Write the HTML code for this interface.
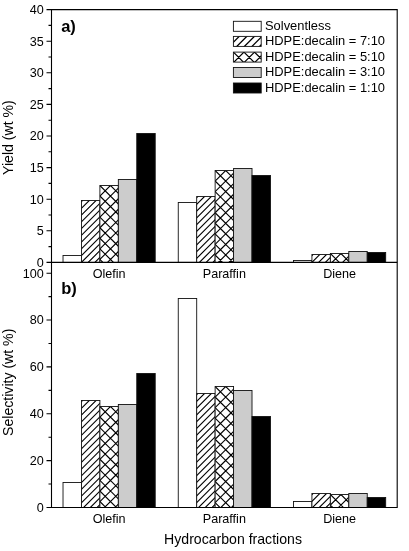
<!DOCTYPE html>
<html><head><meta charset="utf-8"><title>Hydrocarbon fractions</title>
<style>
html,body{margin:0;padding:0;background:#fff}
svg{display:block}
text{font-family:"Liberation Sans",Arial,Helvetica,sans-serif;fill:#000}
</style></head><body>
<svg width="409" height="551" viewBox="0 0 409 551">
<rect width="409" height="551" fill="#fff"/>

<g>
<rect x="63.02" y="255.50" width="18.44" height="6.90" fill="#fff" stroke="#111" stroke-width="0.9"/>
<svg x="81.46" y="200.50" width="18.44" height="61.90" overflow="hidden"><rect x="-1" y="-1" width="20.44" height="63.90" fill="#fff"/><path d="M-1.00,2.10 L2.10,-1.00 M-1.00,8.85 L8.85,-1.00 M-1.00,15.60 L15.60,-1.00 M-1.00,22.35 L22.35,-1.00 M-1.00,29.10 L29.10,-1.00 M-1.00,35.85 L35.85,-1.00 M-1.00,42.60 L42.60,-1.00 M-1.00,49.35 L49.35,-1.00 M-1.00,56.10 L56.10,-1.00 M-1.00,62.85 L62.85,-1.00 M-1.00,69.60 L69.60,-1.00 M-1.00,76.35 L76.35,-1.00 M-1.00,83.10 L83.10,-1.00" stroke="#000" stroke-width="1.15" fill="none"/></svg>
<rect x="81.46" y="200.50" width="18.44" height="61.90" fill="none" stroke="#111" stroke-width="0.9"/>
<svg x="99.90" y="185.50" width="18.44" height="76.90" overflow="hidden"><rect x="-1" y="-1" width="20.44" height="78.90" fill="#fff"/><path d="M-1.00,1.00 L1.00,-1.00 M-1.00,11.56 L11.56,-1.00 M-1.00,22.12 L22.12,-1.00 M-1.00,32.68 L32.68,-1.00 M-1.00,43.24 L43.24,-1.00 M-1.00,53.80 L53.80,-1.00 M-1.00,64.36 L64.36,-1.00 M-1.00,74.92 L74.92,-1.00 M-1.00,85.48 L85.48,-1.00 M-1.00,96.04 L96.04,-1.00 M-1.00,106.60 L106.60,-1.00 M-85.48,-1.00 L-6.58,77.90 M-74.92,-1.00 L3.98,77.90 M-64.36,-1.00 L14.54,77.90 M-53.80,-1.00 L25.10,77.90 M-43.24,-1.00 L35.66,77.90 M-32.68,-1.00 L46.22,77.90 M-22.12,-1.00 L56.78,77.90 M-11.56,-1.00 L67.34,77.90 M-1.00,-1.00 L77.90,77.90 M9.56,-1.00 L88.46,77.90" stroke="#000" stroke-width="1.15" fill="none"/></svg>
<rect x="99.90" y="185.50" width="18.44" height="76.90" fill="none" stroke="#111" stroke-width="0.9"/>
<rect x="118.34" y="179.50" width="18.44" height="82.90" fill="#cccccc" stroke="#111" stroke-width="0.9"/>
<rect x="136.77" y="133.50" width="18.44" height="128.90" fill="#000" stroke="#111" stroke-width="0.9"/>
<rect x="178.26" y="202.50" width="18.44" height="59.90" fill="#fff" stroke="#111" stroke-width="0.9"/>
<svg x="196.69" y="196.50" width="18.44" height="65.90" overflow="hidden"><rect x="-1" y="-1" width="20.44" height="67.90" fill="#fff"/><path d="M-1.00,2.10 L2.10,-1.00 M-1.00,8.85 L8.85,-1.00 M-1.00,15.60 L15.60,-1.00 M-1.00,22.35 L22.35,-1.00 M-1.00,29.10 L29.10,-1.00 M-1.00,35.85 L35.85,-1.00 M-1.00,42.60 L42.60,-1.00 M-1.00,49.35 L49.35,-1.00 M-1.00,56.10 L56.10,-1.00 M-1.00,62.85 L62.85,-1.00 M-1.00,69.60 L69.60,-1.00 M-1.00,76.35 L76.35,-1.00 M-1.00,83.10 L83.10,-1.00" stroke="#000" stroke-width="1.15" fill="none"/></svg>
<rect x="196.69" y="196.50" width="18.44" height="65.90" fill="none" stroke="#111" stroke-width="0.9"/>
<svg x="215.13" y="170.50" width="18.44" height="91.90" overflow="hidden"><rect x="-1" y="-1" width="20.44" height="93.90" fill="#fff"/><path d="M-1.00,1.00 L1.00,-1.00 M-1.00,11.56 L11.56,-1.00 M-1.00,22.12 L22.12,-1.00 M-1.00,32.68 L32.68,-1.00 M-1.00,43.24 L43.24,-1.00 M-1.00,53.80 L53.80,-1.00 M-1.00,64.36 L64.36,-1.00 M-1.00,74.92 L74.92,-1.00 M-1.00,85.48 L85.48,-1.00 M-1.00,96.04 L96.04,-1.00 M-1.00,106.60 L106.60,-1.00 M-1.00,117.16 L117.16,-1.00 M-96.04,-1.00 L-2.14,92.90 M-85.48,-1.00 L8.42,92.90 M-74.92,-1.00 L18.98,92.90 M-64.36,-1.00 L29.54,92.90 M-53.80,-1.00 L40.10,92.90 M-43.24,-1.00 L50.66,92.90 M-32.68,-1.00 L61.22,92.90 M-22.12,-1.00 L71.78,92.90 M-11.56,-1.00 L82.34,92.90 M-1.00,-1.00 L92.90,92.90 M9.56,-1.00 L103.46,92.90" stroke="#000" stroke-width="1.15" fill="none"/></svg>
<rect x="215.13" y="170.50" width="18.44" height="91.90" fill="none" stroke="#111" stroke-width="0.9"/>
<rect x="233.57" y="168.50" width="18.44" height="93.90" fill="#cccccc" stroke="#111" stroke-width="0.9"/>
<rect x="252.01" y="175.50" width="18.44" height="86.90" fill="#000" stroke="#111" stroke-width="0.9"/>
<rect x="293.49" y="260.50" width="18.44" height="1.90" fill="#fff" stroke="#111" stroke-width="0.9"/>
<svg x="311.93" y="254.50" width="18.44" height="7.90" overflow="hidden"><rect x="-1" y="-1" width="20.44" height="9.90" fill="#fff"/><path d="M-1.00,2.10 L2.10,-1.00 M-1.00,8.85 L8.85,-1.00 M-1.00,15.60 L15.60,-1.00 M-1.00,22.35 L22.35,-1.00 M-1.00,29.10 L29.10,-1.00" stroke="#000" stroke-width="1.15" fill="none"/></svg>
<rect x="311.93" y="254.50" width="18.44" height="7.90" fill="none" stroke="#111" stroke-width="0.9"/>
<svg x="330.36" y="253.50" width="18.44" height="8.90" overflow="hidden"><rect x="-1" y="-1" width="20.44" height="10.90" fill="#fff"/><path d="M-1.00,1.00 L1.00,-1.00 M-1.00,11.56 L11.56,-1.00 M-1.00,22.12 L22.12,-1.00 M-1.00,32.68 L32.68,-1.00 M-22.12,-1.00 L-11.22,9.90 M-11.56,-1.00 L-0.66,9.90 M-1.00,-1.00 L9.90,9.90 M9.56,-1.00 L20.46,9.90" stroke="#000" stroke-width="1.15" fill="none"/></svg>
<rect x="330.36" y="253.50" width="18.44" height="8.90" fill="none" stroke="#111" stroke-width="0.9"/>
<rect x="348.80" y="251.50" width="18.44" height="10.90" fill="#cccccc" stroke="#111" stroke-width="0.9"/>
<rect x="367.24" y="252.50" width="18.44" height="9.90" fill="#000" stroke="#111" stroke-width="0.9"/>
<rect x="63.02" y="482.50" width="18.44" height="25.00" fill="#fff" stroke="#111" stroke-width="0.9"/>
<svg x="81.46" y="400.50" width="18.44" height="107.00" overflow="hidden"><rect x="-1" y="-1" width="20.44" height="109.00" fill="#fff"/><path d="M-1.00,2.10 L2.10,-1.00 M-1.00,8.85 L8.85,-1.00 M-1.00,15.60 L15.60,-1.00 M-1.00,22.35 L22.35,-1.00 M-1.00,29.10 L29.10,-1.00 M-1.00,35.85 L35.85,-1.00 M-1.00,42.60 L42.60,-1.00 M-1.00,49.35 L49.35,-1.00 M-1.00,56.10 L56.10,-1.00 M-1.00,62.85 L62.85,-1.00 M-1.00,69.60 L69.60,-1.00 M-1.00,76.35 L76.35,-1.00 M-1.00,83.10 L83.10,-1.00 M-1.00,89.85 L89.85,-1.00 M-1.00,96.60 L96.60,-1.00 M-1.00,103.35 L103.35,-1.00 M-1.00,110.10 L110.10,-1.00 M-1.00,116.85 L116.85,-1.00 M-1.00,123.60 L123.60,-1.00" stroke="#000" stroke-width="1.15" fill="none"/></svg>
<rect x="81.46" y="400.50" width="18.44" height="107.00" fill="none" stroke="#111" stroke-width="0.9"/>
<svg x="99.90" y="406.50" width="18.44" height="101.00" overflow="hidden"><rect x="-1" y="-1" width="20.44" height="103.00" fill="#fff"/><path d="M-1.00,1.00 L1.00,-1.00 M-1.00,11.56 L11.56,-1.00 M-1.00,22.12 L22.12,-1.00 M-1.00,32.68 L32.68,-1.00 M-1.00,43.24 L43.24,-1.00 M-1.00,53.80 L53.80,-1.00 M-1.00,64.36 L64.36,-1.00 M-1.00,74.92 L74.92,-1.00 M-1.00,85.48 L85.48,-1.00 M-1.00,96.04 L96.04,-1.00 M-1.00,106.60 L106.60,-1.00 M-1.00,117.16 L117.16,-1.00 M-1.00,127.72 L127.72,-1.00 M-106.60,-1.00 L-3.60,102.00 M-96.04,-1.00 L6.96,102.00 M-85.48,-1.00 L17.52,102.00 M-74.92,-1.00 L28.08,102.00 M-64.36,-1.00 L38.64,102.00 M-53.80,-1.00 L49.20,102.00 M-43.24,-1.00 L59.76,102.00 M-32.68,-1.00 L70.32,102.00 M-22.12,-1.00 L80.88,102.00 M-11.56,-1.00 L91.44,102.00 M-1.00,-1.00 L102.00,102.00 M9.56,-1.00 L112.56,102.00" stroke="#000" stroke-width="1.15" fill="none"/></svg>
<rect x="99.90" y="406.50" width="18.44" height="101.00" fill="none" stroke="#111" stroke-width="0.9"/>
<rect x="118.34" y="404.50" width="18.44" height="103.00" fill="#cccccc" stroke="#111" stroke-width="0.9"/>
<rect x="136.77" y="373.50" width="18.44" height="134.00" fill="#000" stroke="#111" stroke-width="0.9"/>
<rect x="178.26" y="298.50" width="18.44" height="209.00" fill="#fff" stroke="#111" stroke-width="0.9"/>
<svg x="196.69" y="393.50" width="18.44" height="114.00" overflow="hidden"><rect x="-1" y="-1" width="20.44" height="116.00" fill="#fff"/><path d="M-1.00,2.10 L2.10,-1.00 M-1.00,8.85 L8.85,-1.00 M-1.00,15.60 L15.60,-1.00 M-1.00,22.35 L22.35,-1.00 M-1.00,29.10 L29.10,-1.00 M-1.00,35.85 L35.85,-1.00 M-1.00,42.60 L42.60,-1.00 M-1.00,49.35 L49.35,-1.00 M-1.00,56.10 L56.10,-1.00 M-1.00,62.85 L62.85,-1.00 M-1.00,69.60 L69.60,-1.00 M-1.00,76.35 L76.35,-1.00 M-1.00,83.10 L83.10,-1.00 M-1.00,89.85 L89.85,-1.00 M-1.00,96.60 L96.60,-1.00 M-1.00,103.35 L103.35,-1.00 M-1.00,110.10 L110.10,-1.00 M-1.00,116.85 L116.85,-1.00 M-1.00,123.60 L123.60,-1.00 M-1.00,130.35 L130.35,-1.00" stroke="#000" stroke-width="1.15" fill="none"/></svg>
<rect x="196.69" y="393.50" width="18.44" height="114.00" fill="none" stroke="#111" stroke-width="0.9"/>
<svg x="215.13" y="386.50" width="18.44" height="121.00" overflow="hidden"><rect x="-1" y="-1" width="20.44" height="123.00" fill="#fff"/><path d="M-1.00,1.00 L1.00,-1.00 M-1.00,11.56 L11.56,-1.00 M-1.00,22.12 L22.12,-1.00 M-1.00,32.68 L32.68,-1.00 M-1.00,43.24 L43.24,-1.00 M-1.00,53.80 L53.80,-1.00 M-1.00,64.36 L64.36,-1.00 M-1.00,74.92 L74.92,-1.00 M-1.00,85.48 L85.48,-1.00 M-1.00,96.04 L96.04,-1.00 M-1.00,106.60 L106.60,-1.00 M-1.00,117.16 L117.16,-1.00 M-1.00,127.72 L127.72,-1.00 M-1.00,138.28 L138.28,-1.00 M-1.00,148.84 L148.84,-1.00 M-127.72,-1.00 L-4.72,122.00 M-117.16,-1.00 L5.84,122.00 M-106.60,-1.00 L16.40,122.00 M-96.04,-1.00 L26.96,122.00 M-85.48,-1.00 L37.52,122.00 M-74.92,-1.00 L48.08,122.00 M-64.36,-1.00 L58.64,122.00 M-53.80,-1.00 L69.20,122.00 M-43.24,-1.00 L79.76,122.00 M-32.68,-1.00 L90.32,122.00 M-22.12,-1.00 L100.88,122.00 M-11.56,-1.00 L111.44,122.00 M-1.00,-1.00 L122.00,122.00 M9.56,-1.00 L132.56,122.00" stroke="#000" stroke-width="1.15" fill="none"/></svg>
<rect x="215.13" y="386.50" width="18.44" height="121.00" fill="none" stroke="#111" stroke-width="0.9"/>
<rect x="233.57" y="390.50" width="18.44" height="117.00" fill="#cccccc" stroke="#111" stroke-width="0.9"/>
<rect x="252.01" y="416.50" width="18.44" height="91.00" fill="#000" stroke="#111" stroke-width="0.9"/>
<rect x="293.49" y="501.50" width="18.44" height="6.00" fill="#fff" stroke="#111" stroke-width="0.9"/>
<svg x="311.93" y="493.50" width="18.44" height="14.00" overflow="hidden"><rect x="-1" y="-1" width="20.44" height="16.00" fill="#fff"/><path d="M-1.00,2.10 L2.10,-1.00 M-1.00,8.85 L8.85,-1.00 M-1.00,15.60 L15.60,-1.00 M-1.00,22.35 L22.35,-1.00 M-1.00,29.10 L29.10,-1.00" stroke="#000" stroke-width="1.15" fill="none"/></svg>
<rect x="311.93" y="493.50" width="18.44" height="14.00" fill="none" stroke="#111" stroke-width="0.9"/>
<svg x="330.36" y="494.50" width="18.44" height="13.00" overflow="hidden"><rect x="-1" y="-1" width="20.44" height="15.00" fill="#fff"/><path d="M-1.00,1.00 L1.00,-1.00 M-1.00,11.56 L11.56,-1.00 M-1.00,22.12 L22.12,-1.00 M-1.00,32.68 L32.68,-1.00 M-1.00,43.24 L43.24,-1.00 M-22.12,-1.00 L-7.12,14.00 M-11.56,-1.00 L3.44,14.00 M-1.00,-1.00 L14.00,14.00 M9.56,-1.00 L24.56,14.00" stroke="#000" stroke-width="1.15" fill="none"/></svg>
<rect x="330.36" y="494.50" width="18.44" height="13.00" fill="none" stroke="#111" stroke-width="0.9"/>
<rect x="348.80" y="493.50" width="18.44" height="14.00" fill="#cccccc" stroke="#111" stroke-width="0.9"/>
<rect x="367.24" y="497.50" width="18.44" height="10.00" fill="#000" stroke="#111" stroke-width="0.9"/>
</g>
<g stroke="#000" stroke-width="1.1" fill="none">
<path d="M46.50,9.60 H397.20 V507.50 H46.50"/>
<path d="M51.50,9.60 V507.50"/>
<path d="M46.50,262.40 H397.20"/>
<path d="M48.50,246.60 H51.50 M46.50,230.80 H51.50 M48.50,215.00 H51.50 M46.50,199.20 H51.50 M48.50,183.40 H51.50 M46.50,167.60 H51.50 M48.50,151.80 H51.50 M46.50,136.00 H51.50 M48.50,120.20 H51.50 M46.50,104.40 H51.50 M48.50,88.60 H51.50 M46.50,72.80 H51.50 M48.50,57.00 H51.50 M46.50,41.20 H51.50 M48.50,25.40 H51.50 M48.50,484.07 H51.50 M46.50,460.64 H51.50 M48.50,437.21 H51.50 M46.50,413.78 H51.50 M48.50,390.35 H51.50 M46.50,366.92 H51.50 M48.50,343.49 H51.50 M46.50,320.06 H51.50 M48.50,296.63 H51.50 M46.50,273.20 H51.50 "/>
</g>
<g font-size="12.6" text-anchor="end">
<text x="43.8" y="266.80">0</text>
<text x="43.8" y="235.20">5</text>
<text x="43.8" y="203.60">10</text>
<text x="43.8" y="172.00">15</text>
<text x="43.8" y="140.40">20</text>
<text x="43.8" y="108.80">25</text>
<text x="43.8" y="77.20">30</text>
<text x="43.8" y="45.60">35</text>
<text x="43.8" y="14.00">40</text>
<text x="43.8" y="511.90">0</text>
<text x="43.8" y="465.04">20</text>
<text x="43.8" y="418.18">40</text>
<text x="43.8" y="371.32">60</text>
<text x="43.8" y="324.46">80</text>
<text x="43.8" y="277.60">100</text>
</g>
<g font-size="12.6" text-anchor="middle">
<text x="109.12" y="277.7">Olefin</text>
<text x="109.12" y="522.8">Olefin</text>
<text x="224.35" y="277.7">Paraffin</text>
<text x="224.35" y="522.8">Paraffin</text>
<text x="339.58" y="277.7">Diene</text>
<text x="339.58" y="522.8">Diene</text>
</g>
<g font-size="14.1">
<text x="233" y="544.2" text-anchor="middle">Hydrocarbon fractions</text>
<text transform="translate(13.2,137.6) rotate(-90)" text-anchor="middle">Yield (wt %)</text>
<text transform="translate(13.2,382.3) rotate(-90)" text-anchor="middle">Selectivity (wt %)</text>
</g>
<g font-size="16.5" font-weight="bold">
<text x="61.2" y="31.5">a)</text>
<text x="61.2" y="293.5">b)</text>
</g>
<g font-size="12.9">
<rect x="233.4" y="21.30" width="27.8" height="10" fill="#fff" stroke="#111" stroke-width="0.9"/>
<text x="265" y="30.20">Solventless</text>
<svg x="233.40" y="36.40" width="27.80" height="10.00" overflow="hidden"><rect x="-1" y="-1" width="29.80" height="12.00" fill="#fff"/><path d="M-1.00,6.80 L6.80,-1.00 M-1.00,14.40 L14.40,-1.00 M-1.00,22.00 L22.00,-1.00 M-1.00,29.60 L29.60,-1.00 M-1.00,37.20 L37.20,-1.00" stroke="#000" stroke-width="1.3" fill="none"/></svg>
<rect x="233.4" y="36.40" width="27.8" height="10" fill="none" stroke="#111" stroke-width="0.9"/>
<text x="265" y="45.30">HDPE:decalin = 7:10</text>
<svg x="233.40" y="52.10" width="27.80" height="10.00" overflow="hidden"><rect x="-1" y="-1" width="29.80" height="12.00" fill="#fff"/><path d="M-1.00,1.00 L1.00,-1.00 M-1.00,11.56 L11.56,-1.00 M-1.00,22.12 L22.12,-1.00 M-1.00,32.68 L32.68,-1.00 M-1.00,43.24 L43.24,-1.00 M-22.12,-1.00 L-10.12,11.00 M-11.56,-1.00 L0.44,11.00 M-1.00,-1.00 L11.00,11.00 M9.56,-1.00 L21.56,11.00 M20.12,-1.00 L32.12,11.00" stroke="#000" stroke-width="1.2" fill="none"/></svg>
<rect x="233.4" y="52.10" width="27.8" height="10" fill="none" stroke="#111" stroke-width="0.9"/>
<text x="265" y="61.00">HDPE:decalin = 5:10</text>
<rect x="233.4" y="67.50" width="27.8" height="10" fill="#cccccc" stroke="#111" stroke-width="0.9"/>
<text x="265" y="76.40">HDPE:decalin = 3:10</text>
<rect x="233.4" y="83.00" width="27.8" height="10" fill="#000" stroke="#111" stroke-width="0.9"/>
<text x="265" y="91.90">HDPE:decalin = 1:10</text>
</g>
</svg></body></html>
